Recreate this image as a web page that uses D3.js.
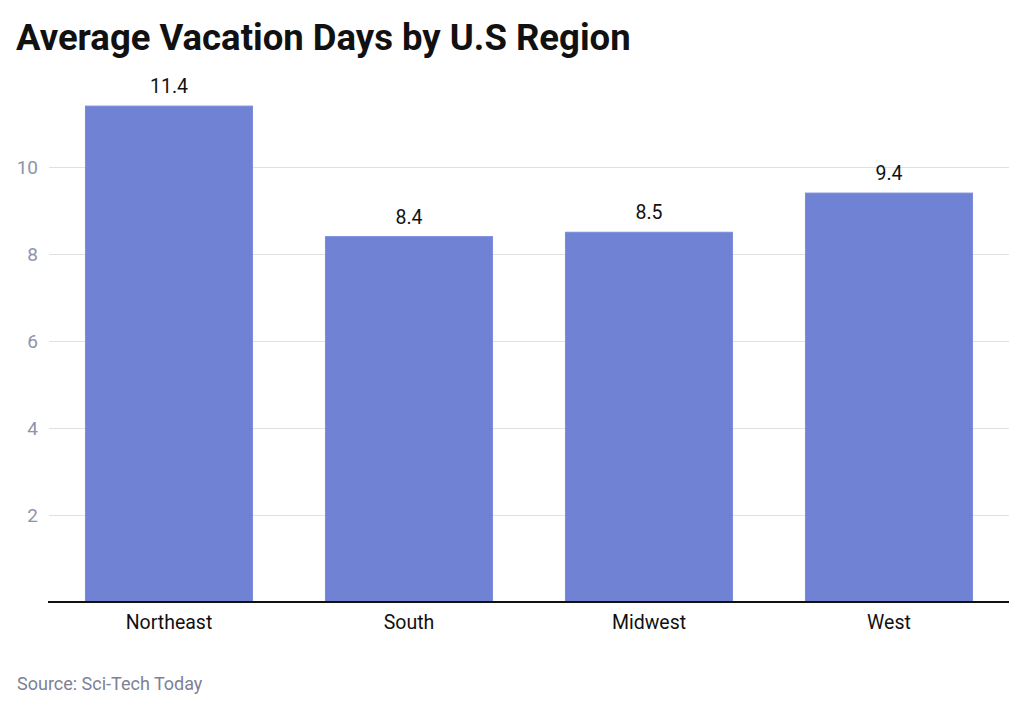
<!DOCTYPE html>
<html>
<head>
<meta charset="utf-8">
<script src="https://cdn.jsdelivr.net/npm/d3@7"></script>
<style>
  body { margin: 0; background: #fff; }
  svg { display: block; font-family: Roboto, "Noto Sans", sans-serif; }
</style>
</head>
<body>
<svg id="chart"></svg>
<script>
var regions = ["Northeast", "South", "Midwest", "West"];
var days = [11.4, 8.4, 8.5, 9.4];
var yTicks = [2, 4, 6, 8, 10];

const width = 1024;
const height = 709;
const margin = { top: 80, right: 15, bottom: 107, left: 49 };

var svg = d3.select("#chart").attr("width", width).attr("height", height);

var x = d3.scaleBand()
	.domain(regions)
	.range([margin.left, width - margin.right])
	.paddingInner(0.304)
	.paddingOuter(0.152);

var y = d3.scaleLinear()
	.domain([0, 12])
	.range([height - margin.bottom, height - margin.bottom - 12 * 43.5]);

// title
svg.append("text")
	.attr("x", 16)
	.attr("y", 50)
	.attr("font-size", 36.5)
	.attr("font-weight", "bold")
	.attr("fill", "#111")
	.text("Average Vacation Days by U.S Region");

// grid lines + y tick labels
var yAxis = svg.append("g")
	.attr("transform", "translate(" + margin.left + ",0)")
	.call(d3.axisLeft(y).tickValues(yTicks).tickSize(-(width - margin.left - margin.right)).tickPadding(11));
yAxis.select(".domain").remove();
yAxis.selectAll(".tick line").attr("stroke", "#e0e0e0").attr("stroke-width", 1);
yAxis.selectAll(".tick text")
	.attr("fill", "#8e93ad")
	.attr("font-size", 19)
	.attr("font-family", "Roboto, sans-serif");

// bars
svg.selectAll("rect.bar")
	.data(days)
	.enter()
	.append("rect")
	.attr("class", "bar")
	.attr("x", function (d, i) { return x(regions[i]); })
	.attr("y", function (d) { return y(d); })
	.attr("width", x.bandwidth())
	.attr("height", function (d) { return y(0) - y(d); })
	.attr("fill", "#6f82d4")
	.attr("stroke", "#7b8cdc")
	.attr("stroke-width", 1);

// value labels
svg.selectAll("text.value")
	.data(days)
	.enter()
	.append("text")
	.attr("class", "value")
	.attr("x", function (d, i) { return x(regions[i]) + x.bandwidth() / 2; })
	.attr("y", function (d) { return y(d) - 13; })
	.attr("text-anchor", "middle")
	.attr("font-size", 19.5)
	.attr("fill", "#111")
	.text(function (d) { return d.toFixed(1); });

// x axis
var xAxis = svg.append("g")
	.attr("transform", "translate(0," + y(0) + ")")
	.call(d3.axisBottom(x).tickSize(0).tickPadding(13));
xAxis.select(".domain").attr("stroke", "#111").attr("stroke-width", 2)
	.attr("d", "M" + (margin.left - 1) + ",0H" + (width - margin.right));
xAxis.selectAll(".tick text")
	.attr("fill", "#111")
	.attr("font-size", 19.5)
	.attr("font-family", "Roboto, sans-serif");

// source
svg.append("text")
	.attr("x", 17)
	.attr("y", 690)
	.attr("font-size", 18)
	.attr("fill", "#7d8196")
	.text("Source: Sci-Tech Today");
</script>
</body>
</html>
